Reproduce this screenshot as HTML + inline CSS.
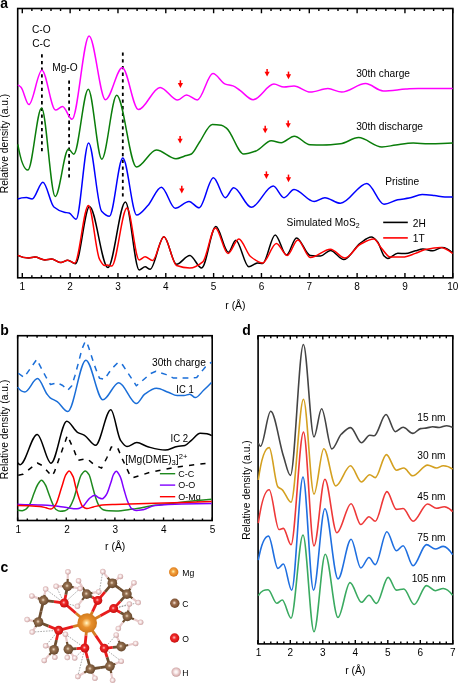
<!DOCTYPE html><html><head><meta charset="utf-8"><style>html,body{margin:0;padding:0;background:#fff;}svg{display:block;will-change:transform;}text{font-family:"Liberation Sans",sans-serif;}</style></head><body>
<svg width="458" height="685" viewBox="0 0 458 685">
<text x="0.2" y="7.9" font-size="14" text-anchor="start" font-weight="bold">a</text>
<text x="0.2" y="335" font-size="14" text-anchor="start" font-weight="bold">b</text>
<text x="0.6" y="571.9" font-size="14" text-anchor="start" font-weight="bold">c</text>
<text x="242.3" y="335.4" font-size="14" text-anchor="start" font-weight="bold">d</text>
<rect x="17.7" y="8.5" width="435.1" height="269.3" fill="none" stroke="#000" stroke-width="1.6"/>
<path d="M22.3 277.8v-4.8M22.3 8.5v4.8M31.87 277.8v-2.6M31.87 8.5v2.6M41.43 277.8v-2.6M41.43 8.5v2.6M51 277.8v-2.6M51 8.5v2.6M60.56 277.8v-2.6M60.56 8.5v2.6M70.13 277.8v-4.8M70.13 8.5v4.8M79.7 277.8v-2.6M79.7 8.5v2.6M89.26 277.8v-2.6M89.26 8.5v2.6M98.83 277.8v-2.6M98.83 8.5v2.6M108.39 277.8v-2.6M108.39 8.5v2.6M117.96 277.8v-4.8M117.96 8.5v4.8M127.53 277.8v-2.6M127.53 8.5v2.6M137.09 277.8v-2.6M137.09 8.5v2.6M146.66 277.8v-2.6M146.66 8.5v2.6M156.22 277.8v-2.6M156.22 8.5v2.6M165.79 277.8v-4.8M165.79 8.5v4.8M175.36 277.8v-2.6M175.36 8.5v2.6M184.92 277.8v-2.6M184.92 8.5v2.6M194.49 277.8v-2.6M194.49 8.5v2.6M204.05 277.8v-2.6M204.05 8.5v2.6M213.62 277.8v-4.8M213.62 8.5v4.8M223.19 277.8v-2.6M223.19 8.5v2.6M232.75 277.8v-2.6M232.75 8.5v2.6M242.32 277.8v-2.6M242.32 8.5v2.6M251.88 277.8v-2.6M251.88 8.5v2.6M261.45 277.8v-4.8M261.45 8.5v4.8M271.02 277.8v-2.6M271.02 8.5v2.6M280.58 277.8v-2.6M280.58 8.5v2.6M290.15 277.8v-2.6M290.15 8.5v2.6M299.71 277.8v-2.6M299.71 8.5v2.6M309.28 277.8v-4.8M309.28 8.5v4.8M318.85 277.8v-2.6M318.85 8.5v2.6M328.41 277.8v-2.6M328.41 8.5v2.6M337.98 277.8v-2.6M337.98 8.5v2.6M347.54 277.8v-2.6M347.54 8.5v2.6M357.11 277.8v-4.8M357.11 8.5v4.8M366.68 277.8v-2.6M366.68 8.5v2.6M376.24 277.8v-2.6M376.24 8.5v2.6M385.81 277.8v-2.6M385.81 8.5v2.6M395.37 277.8v-2.6M395.37 8.5v2.6M404.94 277.8v-4.8M404.94 8.5v4.8M414.51 277.8v-2.6M414.51 8.5v2.6M424.07 277.8v-2.6M424.07 8.5v2.6M433.64 277.8v-2.6M433.64 8.5v2.6M443.2 277.8v-2.6M443.2 8.5v2.6M452.77 277.8v-4.8M452.77 8.5v4.8" stroke="#000" stroke-width="1.4" fill="none"/>
<text x="22.3" y="290.2" font-size="10" text-anchor="middle">1</text>
<text x="70.13" y="290.2" font-size="10" text-anchor="middle">2</text>
<text x="117.96" y="290.2" font-size="10" text-anchor="middle">3</text>
<text x="165.79" y="290.2" font-size="10" text-anchor="middle">4</text>
<text x="213.62" y="290.2" font-size="10" text-anchor="middle">5</text>
<text x="261.45" y="290.2" font-size="10" text-anchor="middle">6</text>
<text x="309.28" y="290.2" font-size="10" text-anchor="middle">7</text>
<text x="357.11" y="290.2" font-size="10" text-anchor="middle">8</text>
<text x="404.94" y="290.2" font-size="10" text-anchor="middle">9</text>
<text x="452.77" y="290.2" font-size="10" text-anchor="middle">10</text>
<text x="235.4" y="308.6" font-size="10.4" text-anchor="middle">r (&#197;)</text>
<text transform="translate(7.6,143.5) rotate(-90)" font-size="10.3" text-anchor="middle">Relative density (a.u.)</text>
<path d="M41.9 54.2V152.5" stroke="#000" stroke-width="1.8" stroke-dasharray="3.3 3.4"/>
<path d="M69.1 80.4V177.5" stroke="#000" stroke-width="1.8" stroke-dasharray="3.3 3.4"/>
<path d="M122.8 52.5V200" stroke="#000" stroke-width="1.8" stroke-dasharray="3.3 3.4"/>
<text x="32" y="32.6" font-size="10.2" text-anchor="start">C-O</text>
<text x="32.2" y="47.4" font-size="10.2" text-anchor="start">C-C</text>
<text x="52.2" y="71" font-size="10.2" text-anchor="start">Mg-O</text>
<text x="356.2" y="77" font-size="10.2" text-anchor="start">30th charge</text>
<text x="356.2" y="129.6" font-size="10.2" text-anchor="start">30th discharge</text>
<text x="385.2" y="184.6" font-size="10.2" text-anchor="start">Pristine</text>
<text x="286.6" y="225.6" font-size="10.2" text-anchor="start">Simulated MoS<tspan font-size="7" dy="2">2</tspan></text>
<path d="M383.2 222.4H407.8" stroke="#000" stroke-width="1.6"/>
<path d="M383.2 237.9H407.8" stroke="#f00" stroke-width="1.6"/>
<text x="412.8" y="226.5" font-size="10.2" text-anchor="start">2H</text>
<text x="412.8" y="241.7" font-size="10.2" text-anchor="start">1T</text>
<path d="M180.4 80.3V83.8" stroke="#f00" stroke-width="1.5"/><path d="M177.8 83L183 83L180.4 87.9Z" fill="#f00"/>
<path d="M267.1 69V72.5" stroke="#f00" stroke-width="1.5"/><path d="M264.5 71.7L269.7 71.7L267.1 76.6Z" fill="#f00"/>
<path d="M288.5 71.6V75.1" stroke="#f00" stroke-width="1.5"/><path d="M285.9 74.3L291.1 74.3L288.5 79.2Z" fill="#f00"/>
<path d="M180.1 136V139.5" stroke="#f00" stroke-width="1.5"/><path d="M177.5 138.7L182.7 138.7L180.1 143.6Z" fill="#f00"/>
<path d="M265.2 125.7V129.2" stroke="#f00" stroke-width="1.5"/><path d="M262.6 128.4L267.8 128.4L265.2 133.3Z" fill="#f00"/>
<path d="M288.2 120.5V124" stroke="#f00" stroke-width="1.5"/><path d="M285.6 123.2L290.8 123.2L288.2 128.1Z" fill="#f00"/>
<path d="M181.8 185.8V189.3" stroke="#f00" stroke-width="1.5"/><path d="M179.2 188.5L184.4 188.5L181.8 193.4Z" fill="#f00"/>
<path d="M266.4 171.4V174.9" stroke="#f00" stroke-width="1.5"/><path d="M263.8 174.1L269 174.1L266.4 179Z" fill="#f00"/>
<path d="M288.5 174.6V178.1" stroke="#f00" stroke-width="1.5"/><path d="M285.9 177.3L291.1 177.3L288.5 182.2Z" fill="#f00"/>
<rect x="17.7" y="335.7" width="194.5" height="184.8" fill="none" stroke="#000" stroke-width="1.6"/>
<path d="M17.6 520.5v-2.9M17.6 335.7v2.9M27.33 520.5v-2M27.33 335.7v2M37.06 520.5v-2M37.06 335.7v2M46.79 520.5v-2M46.79 335.7v2M56.52 520.5v-2M56.52 335.7v2M66.25 520.5v-2.9M66.25 335.7v2.9M75.98 520.5v-2M75.98 335.7v2M85.71 520.5v-2M85.71 335.7v2M95.44 520.5v-2M95.44 335.7v2M105.17 520.5v-2M105.17 335.7v2M114.9 520.5v-2.9M114.9 335.7v2.9M124.63 520.5v-2M124.63 335.7v2M134.36 520.5v-2M134.36 335.7v2M144.09 520.5v-2M144.09 335.7v2M153.82 520.5v-2M153.82 335.7v2M163.55 520.5v-2.9M163.55 335.7v2.9M173.28 520.5v-2M173.28 335.7v2M183.01 520.5v-2M183.01 335.7v2M192.74 520.5v-2M192.74 335.7v2M202.47 520.5v-2M202.47 335.7v2M212.2 520.5v-2.9M212.2 335.7v2.9" stroke="#000" stroke-width="1.4" fill="none"/>
<text x="18.4" y="532.8" font-size="10" text-anchor="middle">1</text>
<text x="67.05" y="532.8" font-size="10" text-anchor="middle">2</text>
<text x="115.2" y="532.8" font-size="10" text-anchor="middle">3</text>
<text x="163.85" y="532.8" font-size="10" text-anchor="middle">4</text>
<text x="212.5" y="532.8" font-size="10" text-anchor="middle">5</text>
<text x="115.2" y="550.3" font-size="10.4" text-anchor="middle">r (&#197;)</text>
<text transform="translate(7.5,429.4) rotate(-90)" font-size="10.3" text-anchor="middle">Relative density (a.u.)</text>
<text x="152" y="365.6" font-size="10.2" text-anchor="start">30th charge</text>
<text x="176.3" y="393" font-size="10" text-anchor="start" textLength="17.4" lengthAdjust="spacingAndGlyphs">IC 1</text>
<text x="170.5" y="442.4" font-size="10" text-anchor="start" textLength="17.6" lengthAdjust="spacingAndGlyphs">IC 2</text>
<text x="125.2" y="463" font-size="10.2" text-anchor="start">[Mg(DME)<tspan font-size="7.6" dy="2.2">3</tspan><tspan dy="-2.2">]</tspan><tspan font-size="7.6" dy="-4.3">2+</tspan></text>
<path d="M159.9 473.7H175.2" stroke="#1f8a1f" stroke-width="1.4"/>
<text x="178.3" y="476.9" font-size="9" text-anchor="start">C-C</text>
<path d="M159.9 485.1H175.2" stroke="#8000ff" stroke-width="1.4"/>
<text x="178.3" y="488.3" font-size="9" text-anchor="start">O-O</text>
<path d="M159.9 496.7H175.2" stroke="#ff0000" stroke-width="1.4"/>
<text x="178.3" y="499.9" font-size="9" text-anchor="start">O-Mg</text>
<rect x="258.1" y="335.8" width="194.7" height="308.1" fill="none" stroke="#000" stroke-width="1.6"/>
<path d="M257.8 643.9v-3.8M257.8 335.8v3.8M264.3 643.9v-2.4M264.3 335.8v2.4M270.8 643.9v-2.4M270.8 335.8v2.4M277.3 643.9v-2.4M277.3 335.8v2.4M283.8 643.9v-2.4M283.8 335.8v2.4M290.3 643.9v-3.8M290.3 335.8v3.8M296.8 643.9v-2.4M296.8 335.8v2.4M303.3 643.9v-2.4M303.3 335.8v2.4M309.8 643.9v-2.4M309.8 335.8v2.4M316.3 643.9v-2.4M316.3 335.8v2.4M322.8 643.9v-3.8M322.8 335.8v3.8M329.3 643.9v-2.4M329.3 335.8v2.4M335.8 643.9v-2.4M335.8 335.8v2.4M342.3 643.9v-2.4M342.3 335.8v2.4M348.8 643.9v-2.4M348.8 335.8v2.4M355.3 643.9v-3.8M355.3 335.8v3.8M361.8 643.9v-2.4M361.8 335.8v2.4M368.3 643.9v-2.4M368.3 335.8v2.4M374.8 643.9v-2.4M374.8 335.8v2.4M381.3 643.9v-2.4M381.3 335.8v2.4M387.8 643.9v-3.8M387.8 335.8v3.8M394.3 643.9v-2.4M394.3 335.8v2.4M400.8 643.9v-2.4M400.8 335.8v2.4M407.3 643.9v-2.4M407.3 335.8v2.4M413.8 643.9v-2.4M413.8 335.8v2.4M420.3 643.9v-3.8M420.3 335.8v3.8M426.8 643.9v-2.4M426.8 335.8v2.4M433.3 643.9v-2.4M433.3 335.8v2.4M439.8 643.9v-2.4M439.8 335.8v2.4M446.3 643.9v-2.4M446.3 335.8v2.4M452.8 643.9v-3.8M452.8 335.8v3.8" stroke="#000" stroke-width="1.4" fill="none"/>
<text x="258.6" y="655.9" font-size="10" text-anchor="middle">1</text>
<text x="290.4" y="655.9" font-size="10" text-anchor="middle">2</text>
<text x="322.9" y="655.9" font-size="10" text-anchor="middle">3</text>
<text x="355.4" y="655.9" font-size="10" text-anchor="middle">4</text>
<text x="387.9" y="655.9" font-size="10" text-anchor="middle">5</text>
<text x="420.4" y="655.9" font-size="10" text-anchor="middle">6</text>
<text x="452.9" y="655.9" font-size="10" text-anchor="middle">7</text>
<text x="355.3" y="673.7" font-size="10.4" text-anchor="middle">r (&#197;)</text>
<text transform="translate(250.1,490) rotate(-90)" font-size="10.3" text-anchor="middle">Relative density (a.u.)</text>
<text x="417.3" y="421.4" font-size="10.2" text-anchor="start">15 nm</text>
<text x="417.3" y="459.3" font-size="10.2" text-anchor="start">30 nm</text>
<text x="417.3" y="499.9" font-size="10.2" text-anchor="start">45 nm</text>
<text x="417.3" y="541.4" font-size="10.2" text-anchor="start">75 nm</text>
<text x="411.7" y="582.3" font-size="10.2" text-anchor="start">105 nm</text>
<path d="M17.8 255.3C21.47 257.13 25.13 258 28.8 258C30.83 258 32.87 257.1 34.9 257.1C38.2 257.1 41.5 259.9 44.8 259.9C47.1 259.9 49.4 259 51.7 259C54.77 259 57.83 262.6 60.9 262.6C63.17 262.6 65.43 260.2 67.7 260.2C70.27 260.2 72.83 263.7 75.4 263.7C80.1 263.7 84.8 206.5 89.5 206.5C95.63 206.5 101.77 267.6 107.9 267.6C113.73 267.6 119.57 201.9 125.4 201.9C130 201.9 134.6 269.9 139.2 269.9C141.17 269.9 143.13 266.8 145.1 266.8C146.77 266.8 148.43 269.3 150.1 269.3C154.7 269.3 159.3 236.7 163.9 236.7C168.1 236.7 172.3 264.3 176.5 264.3C180.93 264.3 185.37 255.5 189.8 255.5C193.73 255.5 197.67 268 201.6 268C206.37 268 211.13 226.6 215.9 226.6C220.07 226.6 224.23 252.2 228.4 252.2C230.87 252.2 233.33 240.2 235.8 240.2C240.13 240.2 244.47 266.8 248.8 266.8C251.73 266.8 254.67 263 257.6 263C259.27 263 260.93 263.5 262.6 263.5C266.8 263.5 271 234.9 275.2 234.9C278.97 234.9 282.73 255 286.5 255C289.83 255 293.17 237.9 296.5 237.9C301.1 237.9 305.7 255.08 310.3 255.5C313.67 255.81 317.03 256 320.4 256C323.73 256 327.07 250.5 330.4 250.5C334.87 250.5 339.33 259.6 343.8 259.6C349.23 259.6 354.67 247.12 360.1 243.3C363.87 240.65 367.63 237 371.4 237C373.5 237 375.6 239.55 377.7 242C379.8 244.45 381.9 253.82 384 255.9C385.23 257.12 386.47 258.4 387.7 258.4C391.07 258.4 394.43 253.2 397.8 253.2C400.3 253.2 402.8 253.6 405.3 253.6C408.67 253.6 412.03 251.64 415.4 250.8C417.9 250.18 420.4 249.1 422.9 249.1C426.27 249.1 429.63 250.8 433 250.8C435.93 250.8 438.87 247.6 441.8 247.6C445.43 247.6 449.07 249.57 452.7 253.2" fill="none" stroke="#000000" stroke-width="1.5" stroke-linejoin="round"/>
<path d="M17.8 255.3C21.47 257.13 25.13 258 28.8 258C30.83 258 32.87 257.1 34.9 257.1C38.2 257.1 41.5 259.9 44.8 259.9C47.1 259.9 49.4 259 51.7 259C54.77 259 57.83 262.6 60.9 262.6C63.17 262.6 65.43 260.2 67.7 260.2C70 260.2 72.3 263.2 74.6 263.2C79.2 263.2 83.8 205.4 88.4 205.4C92.1 205.4 95.8 252.52 99.5 259.2C101.27 262.39 103.03 265.6 104.8 265.6C105.57 265.6 106.33 265 107.1 265C108.63 265 110.17 266.1 111.7 266.1C116.8 266.1 121.9 208 127 208C131.07 208 135.13 260 139.2 260C141.17 260 143.13 256.7 145.1 256.7C147.6 256.7 150.1 260.5 152.6 260.5C156.37 260.5 160.13 236.7 163.9 236.7C168.1 236.7 172.3 264.03 176.5 265.5C180.93 267.05 185.37 268 189.8 268C194.13 268 198.47 265.32 202.8 261.8C207 258.38 211.2 227.9 215.4 227.9C219.6 227.9 223.8 253.5 228 253.5C231.6 253.5 235.2 239 238.8 239C242.7 239 246.6 253.41 250.5 256.5C254.53 259.7 258.57 263 262.6 263C267.2 263 271.8 243.4 276.4 243.4C280 243.4 283.6 255.5 287.2 255.5C290.73 255.5 294.27 240 297.8 240C301.97 240 306.13 257.5 310.3 257.5C317 257.5 323.7 249.2 330.4 249.2C335.27 249.2 340.13 258 345 258C350 258 355 247.23 360 244.5C364.63 241.97 369.27 239 373.9 239C376.43 239 378.97 245.5 381.5 248.3C384.43 251.54 387.37 257.1 390.3 257.1C394.47 257.1 398.63 257.1 402.8 257.1C407 257.1 411.2 254.8 415.4 253.4C418.73 252.29 422.07 250.28 425.4 249.6C430.43 248.58 435.47 247.6 440.5 247.6C444.57 247.6 448.63 250.41 452.7 253.5" fill="none" stroke="#ff0000" stroke-width="1.5" stroke-linejoin="round"/>
<path d="M17.8 199C20.67 197.75 23.53 197.5 26.4 197.5C28.3 197.5 30.2 199 32.1 199C35.7 199 39.3 182.3 42.9 182.3C46.57 182.3 50.23 203.97 53.9 207C57.37 209.86 60.83 211.56 64.3 212.3C65.9 212.64 67.5 212.62 69.1 213C71.43 213.56 73.77 219.3 76.1 219.3C80.27 219.3 84.43 143 88.6 143C92.93 143 97.27 206.55 101.6 211.2C104.2 213.99 106.8 216.2 109.4 216.2C113.87 216.2 118.33 158 122.8 158C127.43 158 132.07 215 136.7 215C140.33 215 143.97 209.54 147.6 205.8C152.2 201.07 156.8 187.2 161.4 187.2C166 187.2 170.6 208.3 175.2 208.3C179.8 208.3 184.4 201.5 189 201.5C192.37 201.5 195.73 207.8 199.1 207.8C203.87 207.8 208.63 177.7 213.4 177.7C217.4 177.7 221.4 197.7 225.4 197.7C228.17 197.7 230.93 187.7 233.7 187.7C239.57 187.7 245.43 207.3 251.3 207.3C258.6 207.3 265.9 186 273.2 186C276.8 186 280.4 197.7 284 197.7C287.33 197.7 290.67 189.5 294 189.5C300.7 189.5 307.4 201.5 314.1 201.5C317.7 201.5 321.3 197.7 324.9 197.7C330.07 197.7 335.23 203.3 340.4 203.3C349.23 203.3 358.07 183.4 366.9 183.4C372.6 183.4 378.3 204.2 384 204.2C388.57 204.2 393.13 200.72 397.7 199.8C401.5 199.03 405.3 198.82 409.1 198.1C413.47 197.27 417.83 194.6 422.2 194.6C426.27 194.6 430.33 195.11 434.4 195.5C437.9 195.83 441.4 196.9 444.9 196.9C447.5 196.9 450.1 196.9 452.7 196.9" fill="none" stroke="#0000ff" stroke-width="1.5" stroke-linejoin="round"/>
<path d="M17.8 144.3C21.17 162.98 24.53 170 27.9 170C32.47 170 37.03 107.9 41.6 107.9C46.13 107.9 50.67 196.5 55.2 196.5C59.63 196.5 64.07 149.1 68.5 149.1C70.27 149.1 72.03 154.2 73.8 154.2C78.63 154.2 83.47 89.2 88.3 89.2C92.8 89.2 97.3 159.2 101.8 159.2C106.77 159.2 111.73 95.3 116.7 95.3C123.3 95.3 129.9 167 136.5 167C143.13 167 149.77 150 156.4 150C162.93 150 169.47 158.7 176 158.7C178.73 158.7 181.47 157.03 184.2 156.2C186.6 155.47 189 155.2 191.4 154C194.13 152.64 196.87 145.9 199.6 142C203.83 135.96 208.07 124.4 212.3 124.4C215.33 124.4 218.37 124.7 221.4 125.2C223.17 125.49 224.93 126.92 226.7 128.3C232.37 132.74 238.03 154 243.7 154C248.07 154 252.43 152.23 256.8 150.6C261.6 148.8 266.4 140.7 271.2 140.7C274.53 140.7 277.87 142.7 281.2 142.7C285.57 142.7 289.93 136.2 294.3 136.2C299.53 136.2 304.77 144.65 310 144.8C314.3 144.93 318.6 145 322.9 145C328.73 145 334.57 144.46 340.4 143.8C346.47 143.11 352.53 137.6 358.6 137.6C366.37 137.6 374.13 147 381.9 147C386.5 147 391.1 145.59 395.7 145C401.57 144.25 407.43 143 413.3 143C418.33 143 423.37 143.8 428.4 143.8C436.5 143.8 444.6 143.7 452.7 143" fill="none" stroke="#0a7d0a" stroke-width="1.5" stroke-linejoin="round"/>
<path d="M17.8 84.9C18.87 85.26 19.93 86.19 21 87.3C23.63 90.05 26.27 104.6 28.9 104.6C33.23 104.6 37.57 70.3 41.9 70.3C46.43 70.3 50.97 110.1 55.5 110.1C57.83 110.1 60.17 106.5 62.5 106.5C65.67 106.5 68.83 119.3 72 119.3C77.7 119.3 83.4 35.9 89.1 35.9C94.57 35.9 100.03 99.8 105.5 99.8C111.1 99.8 116.7 67.8 122.3 67.8C127.67 67.8 133.03 109.6 138.4 109.6C145.63 109.6 152.87 87.4 160.1 87.4C165.97 87.4 171.83 100 177.7 100C180.63 100 183.57 94.9 186.5 94.9C190.1 94.9 193.7 100 197.3 100C202.5 100 207.7 73.6 212.9 73.6C217.07 73.6 221.23 82.63 225.4 84.1C227.93 85 230.47 85.02 233 85.9C235.33 86.71 237.67 88.83 240 90.4C244.37 93.33 248.73 99.7 253.1 99.7C260.03 99.7 266.97 84.1 273.9 84.1C277.27 84.1 280.63 87.1 284 87.1C287.33 87.1 290.67 86.1 294 86.1C299.43 86.1 304.87 92.1 310.3 92.1C316.17 92.1 322.03 88.6 327.9 88.6C332.5 88.6 337.1 92.1 341.7 92.1C349.67 92.1 357.63 83.6 365.6 83.6C371.47 83.6 377.33 90.9 383.2 90.9C390.73 90.9 398.27 89.59 405.8 89.1C409.97 88.83 414.13 88.4 418.3 88.4C429.77 88.4 441.23 88.4 452.7 88.6" fill="none" stroke="#ff00ff" stroke-width="1.5" stroke-linejoin="round"/>
<path d="M17.6 372.7 L24 377.5 L36.7 359.5 L46.5 378 L50.5 384.5 L57.6 382.8 L62.7 385.5 L67.8 390.3 L71.8 385.8 L75 375.5 L78.5 362.5 L82 349 L85.3 341.3 L88 345.5 L91 354.5 L94 364 L97.4 373.3 L99.5 378.3 L104.4 379.4 L108.5 373.3 L112.4 368.1 L118.3 362.2 L122.7 365 L136.4 385.8 L139.7 383 L150.5 373.6 L156 371.2 L166.3 374.6 L173.1 377.9 L190.8 377.9 L196.7 377.5 L205.6 366.7 L211.5 362.2" fill="none" stroke="#1a6ed8" stroke-width="1.5" stroke-dasharray="5.8 5.4" stroke-linejoin="round" stroke-dashoffset="10.3"/>
<path d="M17.6 387.1C20 390.24 22.4 392 24.8 392C29.03 392 33.27 378.6 37.5 378.6C40.7 378.6 43.9 390.15 47.1 394.3C48.13 395.64 49.17 397.01 50.2 397.8C52.53 399.59 54.87 400.02 57.2 401.6C60.73 403.99 64.27 411.6 67.8 411.6C73.83 411.6 79.87 360.2 85.9 360.2C91.57 360.2 97.23 399.8 102.9 399.8C108.2 399.8 113.5 382.7 118.8 382.7C124.67 382.7 130.53 403.5 136.4 403.5C139.17 403.5 141.93 396.17 144.7 394.2C148.6 391.43 152.5 388.3 156.4 388.3C160.33 388.3 164.27 390.8 168.2 392.2C171.17 393.25 174.13 395.6 177.1 395.6C179.4 395.6 181.7 395.6 184 395.6C185.93 395.6 187.87 394.2 189.8 394.2C191.63 394.2 193.47 397.6 195.3 397.6C198.07 397.6 200.83 392.89 203.6 390.3C206.23 387.83 208.87 385.19 211.5 382.4" fill="none" stroke="#1a6ed8" stroke-width="1.5" stroke-linejoin="round"/>
<path d="M17.6 462.7C18.43 463.64 19.27 464.7 20.1 464.7C25.8 464.7 31.5 434.4 37.2 434.4C41.8 434.4 46.4 463.2 51 463.2C56.27 463.2 61.53 421.3 66.8 421.3C70.37 421.3 73.93 430.15 77.5 432.3C79.83 433.71 82.17 434.05 84.5 435.4C88.2 437.54 91.9 445.3 95.6 445.3C100.67 445.3 105.73 409.8 110.8 409.8C114.07 409.8 117.33 435.9 120.6 440.5C122.73 443.51 124.87 446.6 127 446.6C130.27 446.6 133.53 442.5 136.8 442.5C140.47 442.5 144.13 445.84 147.8 446.8C153.6 448.32 159.4 450.1 165.2 450.1C169.2 450.1 173.2 447.06 177.2 446.4C179.77 445.98 182.33 446.03 184.9 445.5C187.07 445.05 189.23 442.03 191.4 440.3C194.33 437.96 197.27 433.3 200.2 433.3C204.03 433.3 207.87 433.3 211.7 435.6" fill="none" stroke="#000" stroke-width="1.5" stroke-linejoin="round"/>
<path d="M17.6 475.3 L22.9 474.3 L37.3 463 L42.5 465.6 L51.7 476.1 L54.3 472.2 L67.4 435.5 L73.9 449.9 L77.9 460.4 L87 458.5 L93.6 464.3 L101.5 468.2 L107 457.5 L111.4 446.9 L117.4 447.3 L122.4 459.1 L130.3 476.1 L132.6 477.8 L150.2 472.3 L175.3 467.2 L211.7 462.7" fill="none" stroke="#000" stroke-width="1.5" stroke-dasharray="5.2 6.2" stroke-linejoin="round" stroke-dashoffset="10.7"/>
<path d="M17.6 509.9C19.13 510.72 20.67 510.8 22.2 510.8C23.47 510.8 24.73 510.01 26 509.2C27.27 508.39 28.53 506.4 29.8 504.2C31.2 501.77 32.6 496.76 34 493.3C35.17 490.41 36.33 486.87 37.5 485C38.83 482.86 40.17 480.2 41.5 480.2C42.83 480.2 44.17 482.75 45.5 485C46.53 486.74 47.57 490.57 48.6 493.3C50 496.99 51.4 501.4 52.8 504.2C53.87 506.34 54.93 508.78 56 509.5C57.47 510.49 58.93 511.3 60.4 511.3C61.93 511.3 63.47 511.09 65 510.8C66.47 510.52 67.93 509.11 69.4 507.5C70.83 505.93 72.27 502.45 73.7 498.8C74.8 496 75.9 491.27 77 487.8C78.47 483.17 79.93 476.87 81.4 474.7C82.67 472.83 83.93 470.9 85.2 470.9C86.47 470.9 87.73 472.73 89 474.7C90.1 476.41 91.2 481.87 92.3 485.7C93.2 488.83 94.1 492.76 95 495.5C96.27 499.36 97.53 503.45 98.8 505.3C100.27 507.44 101.73 509.2 103.2 509.7C105.03 510.33 106.87 510.75 108.7 510.8C111.1 510.86 113.5 510.9 115.9 510.9C121.37 510.9 126.83 509.82 132.3 509.1C139.87 508.11 147.43 506.35 155 505.3C161.77 504.37 168.53 503.63 175.3 502.9C187.43 501.58 199.57 500.35 211.7 499.3" fill="none" stroke="#1f8a1f" stroke-width="1.5" stroke-linejoin="round"/>
<path d="M17.6 504.1C18.4 504.21 19.2 504.35 20 504.4C27.27 504.84 34.53 504.78 41.8 505.1C45.47 505.26 49.13 505.49 52.8 505.8C56.87 506.14 60.93 506.8 65 507.3C69 507.8 73 508.8 77 508.8C79 508.8 81 507.62 83 506.4C85 505.18 87 500.45 89 498.8C90.9 497.23 92.8 495.3 94.7 495.3C96.07 495.3 97.43 497.13 98.8 497.7C99.9 498.16 101 498.8 102.1 498.8C103.57 498.8 105.03 496.55 106.5 494.4C107.97 492.25 109.43 486.64 110.9 482.4C111.77 479.9 112.63 476.01 113.5 474.5C114.4 472.93 115.3 471.2 116.2 471.2C117.57 471.2 118.93 474.18 120.3 476.9C121.57 479.42 122.83 485.82 124.1 490C125.37 494.18 126.63 499.16 127.9 502C129.17 504.84 130.43 507.71 131.7 508.6C133.17 509.63 134.63 510.5 136.1 510.5C138.47 510.5 140.83 510.09 143.2 509.7C147.13 509.05 151.07 505.79 155 505.5C173.9 504.09 192.8 503.6 211.7 503.6" fill="none" stroke="#8000ff" stroke-width="1.5" stroke-linejoin="round"/>
<path d="M17.6 505.6C24.97 505.6 32.33 505.87 39.7 506.4C41.8 506.55 43.9 507.27 46 507.8C47.53 508.18 49.07 509.1 50.6 509.1C51.57 509.1 52.53 508.26 53.5 507.5C54.33 506.84 55.17 505.65 56 504.2C57.83 501 59.67 493.26 61.5 487.8C62.97 483.43 64.43 477.14 65.9 474.7C66.97 472.93 68.03 470.9 69.1 470.9C70.47 470.9 71.83 473.87 73.2 476.9C74.1 478.9 75 484.5 75.9 487.8C77 491.83 78.1 495.8 79.2 498.8C80.3 501.8 81.4 505.45 82.5 506.4C83.93 507.63 85.37 508.6 86.8 508.6C89 508.6 91.2 507.41 93.4 506.9C96.3 506.23 99.2 505.33 102.1 505.1C106.4 504.76 110.7 504.66 115 504.5C128.33 504 141.67 503.7 155 503.3C173.9 502.73 192.8 502.17 211.7 501.6" fill="none" stroke="#ff0000" stroke-width="1.5" stroke-linejoin="round"/>
<path d="M258.3 595.7C261.57 590.01 264.83 589.8 268.1 589.8C271 589.8 273.9 603.3 276.8 603.3C278.63 603.3 280.47 600 282.3 600C285.2 600 288.1 618.2 291 618.2C295 618.2 299 535 303 535C306.67 535 310.33 631.7 314 631.7C317.77 631.7 321.53 554.2 325.3 554.2C329.53 554.2 333.77 617.5 338 617.5C342 617.5 346 582.6 350 582.6C353.83 582.6 357.67 602.3 361.5 602.3C364 602.3 366.5 595.2 369 595.2C371.47 595.2 373.93 603.4 376.4 603.4C380.33 603.4 384.27 577.4 388.2 577.4C390.93 577.4 393.67 590.1 396.4 590.1C398.87 590.1 401.33 589 403.8 589C407.27 589 410.73 604.5 414.2 604.5C418.3 604.5 422.4 585.6 426.5 585.6C429.47 585.6 432.43 590.7 435.4 590.7C438 590.7 440.6 588.5 443.2 588.5C446.33 588.5 449.47 591.26 452.6 595.2" fill="none" stroke="#3aaa60" stroke-width="1.6" stroke-linejoin="round"/>
<path d="M258.3 560.1C261.7 541.86 265.1 536.1 268.5 536.1C271.63 536.1 274.77 568.4 277.9 568.4C279.73 568.4 281.57 564 283.4 564C286.17 564 288.93 590.2 291.7 590.2C295.47 590.2 299.23 477.1 303 477.1C306.5 477.1 310 590.2 313.5 590.2C317.3 590.2 321.1 508.8 324.9 508.8C329.27 508.8 333.63 578.9 338 578.9C342.37 578.9 346.73 539.3 351.1 539.3C354.33 539.3 357.57 568 360.8 568C363.53 568 366.27 557.5 369 557.5C371.1 557.5 373.2 564.6 375.3 564.6C379.17 564.6 383.03 531.7 386.9 531.7C390.07 531.7 393.23 550.8 396.4 550.8C398.63 550.8 400.87 545.7 403.1 545.7C406.43 545.7 409.77 565.7 413.1 565.7C417.57 565.7 422.03 544.6 426.5 544.6C429.47 544.6 432.43 549 435.4 549C438 549 440.6 546.4 443.2 546.4C446.33 546.4 449.47 549.8 452.6 554.6" fill="none" stroke="#1f6fe0" stroke-width="1.6" stroke-linejoin="round"/>
<path d="M258.3 523.2C261.93 498.45 265.57 489.8 269.2 489.8C272.47 489.8 275.73 529.5 279 529.5C280.47 529.5 281.93 528.4 283.4 528.4C285.93 528.4 288.47 544.8 291 544.8C295.17 544.8 299.33 432.1 303.5 432.1C307 432.1 310.5 545.9 314 545.9C317.63 545.9 321.27 479.3 324.9 479.3C328.9 479.3 332.9 532.8 336.9 532.8C341.63 532.8 346.37 503.8 351.1 503.8C354.33 503.8 357.57 524.5 360.8 524.5C363.53 524.5 366.27 516.7 369 516.7C371.1 516.7 373.2 521.2 375.3 521.2C379.17 521.2 383.03 491.6 386.9 491.6C390.07 491.6 393.23 509.4 396.4 509.4C398.63 509.4 400.87 508.5 403.1 508.5C406.43 508.5 409.77 521.2 413.1 521.2C417.93 521.2 422.77 504 427.6 504C430.57 504 433.53 508.3 436.5 508.3C439.1 508.3 441.7 506.7 444.3 506.7C447.07 506.7 449.83 508.83 452.6 511.6" fill="none" stroke="#ee3838" stroke-width="1.6" stroke-linejoin="round"/>
<path d="M258.3 480C261.93 454.07 265.57 447.6 269.2 447.6C272.1 447.6 275 483.82 277.9 486.9C279.37 488.46 280.83 488.53 282.3 489.8C285.2 492.31 288.1 502.2 291 502.2C295.17 502.2 299.33 399.3 303.5 399.3C307 399.3 310.5 494.1 314 494.1C317.27 494.1 320.53 448.7 323.8 448.7C327.8 448.7 331.8 485.9 335.8 485.9C340.7 485.9 345.6 465.8 350.5 465.8C354.17 465.8 357.83 482 361.5 482C364.23 482 366.97 474.7 369.7 474.7C371.57 474.7 373.43 477.6 375.3 477.6C379 477.6 382.7 454.6 386.4 454.6C389.73 454.6 393.07 470.2 396.4 470.2C398.87 470.2 401.33 468 403.8 468C406.77 468 409.73 475.8 412.7 475.8C417.67 475.8 422.63 465.1 427.6 465.1C430.57 465.1 433.53 468 436.5 468C438.73 468 440.97 465.7 443.2 465.7C446.33 465.7 449.47 466.68 452.6 469.1" fill="none" stroke="#d4a020" stroke-width="1.6" stroke-linejoin="round"/>
<path d="M258.3 443C259.03 444.74 259.77 446.3 260.5 446.3C263.9 446.3 267.3 411.3 270.7 411.3C274.93 411.3 279.17 443.02 283.4 456C285.73 463.15 288.07 475.4 290.4 475.4C294.73 475.4 299.07 344.5 303.4 344.5C306.93 344.5 310.47 436.9 314 436.9C316.53 436.9 319.07 408.7 321.6 408.7C325.03 408.7 328.47 448.9 331.9 448.9C335 448.9 338.1 437.34 341.2 434.3C344.33 431.23 347.47 427.6 350.6 427.6C354.23 427.6 357.87 442.8 361.5 442.8C364.23 442.8 366.97 435.2 369.7 435.2C371.2 435.2 372.7 435.7 374.2 435.7C378.13 435.7 382.07 414.5 386 414.5C389.1 414.5 392.2 431.7 395.3 431.7C397.9 431.7 400.5 427.2 403.1 427.2C406.37 427.2 409.63 433.4 412.9 433.4C415.43 433.4 417.97 429.06 420.5 428.6C422.67 428.21 424.83 428.21 427 427.9C428.83 427.64 430.67 426.8 432.5 426.8C434.7 426.8 436.9 427.5 439.1 427.5C441.63 427.5 444.17 425.7 446.7 425.7C448.67 425.7 450.63 426.38 452.6 427.4" fill="none" stroke="#444444" stroke-width="1.6" stroke-linejoin="round"/>
<defs><radialGradient id="gMg" cx="0.47" cy="0.5" r="0.6"><stop offset="0" stop-color="#fffbd0"/><stop offset="0.12" stop-color="#ffd890"/><stop offset="0.4" stop-color="#e8902c"/><stop offset="0.85" stop-color="#d07a1c"/><stop offset="1" stop-color="#a05810"/></radialGradient><radialGradient id="gC" cx="0.45" cy="0.45" r="0.62"><stop offset="0" stop-color="#f0dcc4"/><stop offset="0.3" stop-color="#957050"/><stop offset="0.85" stop-color="#6a4a2e"/><stop offset="1" stop-color="#46301a"/></radialGradient><radialGradient id="gO" cx="0.45" cy="0.45" r="0.62"><stop offset="0" stop-color="#ffc8c8"/><stop offset="0.3" stop-color="#f02828"/><stop offset="0.85" stop-color="#c80e0e"/><stop offset="1" stop-color="#8e0606"/></radialGradient><radialGradient id="gH" cx="0.45" cy="0.45" r="0.62"><stop offset="0" stop-color="#ffffff"/><stop offset="0.35" stop-color="#f4e2e2"/><stop offset="0.8" stop-color="#d4acac"/><stop offset="1" stop-color="#a88080"/></radialGradient><radialGradient id="gMgL" cx="0.45" cy="0.45" r="0.6"><stop offset="0" stop-color="#fff6b0"/><stop offset="0.35" stop-color="#f2a040"/><stop offset="0.85" stop-color="#dc7a18"/><stop offset="1" stop-color="#b05a10"/></radialGradient><radialGradient id="gCL" cx="0.45" cy="0.45" r="0.6"><stop offset="0" stop-color="#fbe8dc"/><stop offset="0.35" stop-color="#a07050"/><stop offset="0.85" stop-color="#744a2c"/><stop offset="1" stop-color="#4e3018"/></radialGradient><radialGradient id="gOL" cx="0.45" cy="0.45" r="0.6"><stop offset="0" stop-color="#ffc0c0"/><stop offset="0.35" stop-color="#f02a2a"/><stop offset="0.85" stop-color="#d01010"/><stop offset="1" stop-color="#980808"/></radialGradient><radialGradient id="gHL" cx="0.48" cy="0.48" r="0.58"><stop offset="0" stop-color="#ffffff"/><stop offset="0.3" stop-color="#f8eaea"/><stop offset="0.75" stop-color="#d8b0b0"/><stop offset="1" stop-color="#a87c7c"/></radialGradient></defs>
<path d="M64.2 603L56.1 586.3M64.2 603L45.6 589.1M64.2 603L80.1 588.5M64.2 603L77.4 606.3M58.7 630.3L45.6 645.8M58.7 630.3L65.4 634.2M58.7 630.3L32.1 632.1M84.8 648L74.7 658M84.8 648L65.4 634.2M84.8 648L77.8 676.5M104.3 648.3L116.2 634.9M104.3 648.3L121.2 661.2M113.6 608.6L129.4 604M113.6 608.6L138.2 602.6M97.8 600.4L102.8 571.6M97.8 600.4L98.7 591.7" stroke="#8c8c8c" stroke-width="0.75" stroke-dasharray="1.6 1.2"/>
<path d="M67.5 586.3L67.7 579.05" stroke="#6e4e30" stroke-width="2.2"/><path d="M67.7 579.05L67.9 571.8" stroke="#e8caca" stroke-width="2.2"/>
<path d="M67.5 586.3L61.8 586.3" stroke="#6e4e30" stroke-width="2.2"/><path d="M61.8 586.3L56.1 586.3" stroke="#e8caca" stroke-width="2.2"/>
<path d="M67.5 586.3L73.8 587.4" stroke="#6e4e30" stroke-width="2.2"/><path d="M73.8 587.4L80.1 588.5" stroke="#e8caca" stroke-width="2.2"/>
<path d="M86.7 594.1L82.6 587.45" stroke="#6e4e30" stroke-width="2.2"/><path d="M82.6 587.45L78.5 580.8" stroke="#e8caca" stroke-width="2.2"/>
<path d="M86.7 594.1L82.05 600.2" stroke="#6e4e30" stroke-width="2.2"/><path d="M82.05 600.2L77.4 606.3" stroke="#e8caca" stroke-width="2.2"/>
<path d="M86.7 594.1L92.7 592.9" stroke="#6e4e30" stroke-width="2.2"/><path d="M92.7 592.9L98.7 591.7" stroke="#e8caca" stroke-width="2.2"/>
<path d="M112.3 583.3L107.55 577.45" stroke="#6e4e30" stroke-width="2.2"/><path d="M107.55 577.45L102.8 571.6" stroke="#e8caca" stroke-width="2.2"/>
<path d="M112.3 583.3L116.35 579.85" stroke="#6e4e30" stroke-width="2.2"/><path d="M116.35 579.85L120.4 576.4" stroke="#e8caca" stroke-width="2.2"/>
<path d="M126.9 594.1L130.4 588.4" stroke="#6e4e30" stroke-width="2.2"/><path d="M130.4 588.4L133.9 582.7" stroke="#e8caca" stroke-width="2.2"/>
<path d="M126.9 594.1L132.55 598.35" stroke="#6e4e30" stroke-width="2.2"/><path d="M132.55 598.35L138.2 602.6" stroke="#e8caca" stroke-width="2.2"/>
<path d="M127.4 616.4L128.4 610.2" stroke="#6e4e30" stroke-width="2.2"/><path d="M128.4 610.2L129.4 604" stroke="#e8caca" stroke-width="2.2"/>
<path d="M127.4 616.4L134 619.35" stroke="#6e4e30" stroke-width="2.2"/><path d="M134 619.35L140.6 622.3" stroke="#e8caca" stroke-width="2.2"/>
<path d="M127.4 616.4L122.85 622.45" stroke="#6e4e30" stroke-width="2.2"/><path d="M122.85 622.45L118.3 628.5" stroke="#e8caca" stroke-width="2.2"/>
<path d="M43.6 600.4L44.6 594.75" stroke="#6e4e30" stroke-width="2.2"/><path d="M44.6 594.75L45.6 589.1" stroke="#e8caca" stroke-width="2.2"/>
<path d="M43.6 600.4L37.7 598.15" stroke="#6e4e30" stroke-width="2.2"/><path d="M37.7 598.15L31.8 595.9" stroke="#e8caca" stroke-width="2.2"/>
<path d="M38.5 622L32.8 620.8" stroke="#6e4e30" stroke-width="2.2"/><path d="M32.8 620.8L27.1 619.6" stroke="#e8caca" stroke-width="2.2"/>
<path d="M38.5 622L35.3 627.05" stroke="#6e4e30" stroke-width="2.2"/><path d="M35.3 627.05L32.1 632.1" stroke="#e8caca" stroke-width="2.2"/>
<path d="M54.1 649.8L49.85 647.8" stroke="#6e4e30" stroke-width="2.2"/><path d="M49.85 647.8L45.6 645.8" stroke="#e8caca" stroke-width="2.2"/>
<path d="M54.1 649.8L49.15 655.1" stroke="#6e4e30" stroke-width="2.2"/><path d="M49.15 655.1L44.2 660.4" stroke="#e8caca" stroke-width="2.2"/>
<path d="M54.1 649.8L54.45 653.5" stroke="#6e4e30" stroke-width="2.2"/><path d="M54.45 653.5L54.8 657.2" stroke="#e8caca" stroke-width="2.2"/>
<path d="M68.4 649.2L66.9 641.7" stroke="#6e4e30" stroke-width="2.2"/><path d="M66.9 641.7L65.4 634.2" stroke="#e8caca" stroke-width="2.2"/>
<path d="M68.4 649.2L67.85 653.4" stroke="#6e4e30" stroke-width="2.2"/><path d="M67.85 653.4L67.3 657.6" stroke="#e8caca" stroke-width="2.2"/>
<path d="M68.4 649.2L71.55 653.6" stroke="#6e4e30" stroke-width="2.2"/><path d="M71.55 653.6L74.7 658" stroke="#e8caca" stroke-width="2.2"/>
<path d="M90.4 669L84.1 672.75" stroke="#6e4e30" stroke-width="2.2"/><path d="M84.1 672.75L77.8 676.5" stroke="#e8caca" stroke-width="2.2"/>
<path d="M90.4 669L92.65 673.6" stroke="#6e4e30" stroke-width="2.2"/><path d="M92.65 673.6L94.9 678.2" stroke="#e8caca" stroke-width="2.2"/>
<path d="M109.9 666.2L111.25 673.25" stroke="#6e4e30" stroke-width="2.2"/><path d="M111.25 673.25L112.6 680.3" stroke="#e8caca" stroke-width="2.2"/>
<path d="M109.9 666.2L115.55 663.7" stroke="#6e4e30" stroke-width="2.2"/><path d="M115.55 663.7L121.2 661.2" stroke="#e8caca" stroke-width="2.2"/>
<path d="M121.3 646.6L118.75 640.75" stroke="#6e4e30" stroke-width="2.2"/><path d="M118.75 640.75L116.2 634.9" stroke="#e8caca" stroke-width="2.2"/>
<path d="M121.3 646.6L128.45 645" stroke="#6e4e30" stroke-width="2.2"/><path d="M128.45 645L135.6 643.4" stroke="#e8caca" stroke-width="2.2"/>
<path d="M87.2 623L75.7 613" stroke="#d47c22" stroke-width="2.8"/><path d="M75.7 613L64.2 603" stroke="#e81c1c" stroke-width="2.8"/>
<path d="M87.2 623L92.5 611.7" stroke="#d47c22" stroke-width="2.8"/><path d="M92.5 611.7L97.8 600.4" stroke="#e81c1c" stroke-width="2.8"/>
<path d="M87.2 623L100.4 615.8" stroke="#d47c22" stroke-width="2.8"/><path d="M100.4 615.8L113.6 608.6" stroke="#e81c1c" stroke-width="2.8"/>
<path d="M87.2 623L72.95 626.65" stroke="#d47c22" stroke-width="2.8"/><path d="M72.95 626.65L58.7 630.3" stroke="#e81c1c" stroke-width="2.8"/>
<path d="M87.2 623L86 635.5" stroke="#d47c22" stroke-width="2.8"/><path d="M86 635.5L84.8 648" stroke="#e81c1c" stroke-width="2.8"/>
<path d="M87.2 623L95.75 635.65" stroke="#d47c22" stroke-width="2.8"/><path d="M95.75 635.65L104.3 648.3" stroke="#e81c1c" stroke-width="2.8"/>
<path d="M67.5 586.3L65.85 594.65" stroke="#6e4e30" stroke-width="2.8"/><path d="M65.85 594.65L64.2 603" stroke="#e81c1c" stroke-width="2.8"/>
<path d="M64.2 603L53.9 601.7" stroke="#e81c1c" stroke-width="2.8"/><path d="M53.9 601.7L43.6 600.4" stroke="#6e4e30" stroke-width="2.8"/>
<path d="M43.6 600.4L41.05 611.2" stroke="#6e4e30" stroke-width="2.8"/><path d="M41.05 611.2L38.5 622" stroke="#6e4e30" stroke-width="2.8"/>
<path d="M38.5 622L48.6 626.15" stroke="#6e4e30" stroke-width="2.8"/><path d="M48.6 626.15L58.7 630.3" stroke="#e81c1c" stroke-width="2.8"/>
<path d="M58.7 630.3L56.4 640.05" stroke="#e81c1c" stroke-width="2.8"/><path d="M56.4 640.05L54.1 649.8" stroke="#6e4e30" stroke-width="2.8"/>
<path d="M86.7 594.1L92.25 597.25" stroke="#6e4e30" stroke-width="2.8"/><path d="M92.25 597.25L97.8 600.4" stroke="#e81c1c" stroke-width="2.8"/>
<path d="M97.8 600.4L105.05 591.85" stroke="#e81c1c" stroke-width="2.8"/><path d="M105.05 591.85L112.3 583.3" stroke="#6e4e30" stroke-width="2.8"/>
<path d="M112.3 583.3L119.6 588.7" stroke="#6e4e30" stroke-width="2.8"/><path d="M119.6 588.7L126.9 594.1" stroke="#6e4e30" stroke-width="2.8"/>
<path d="M126.9 594.1L120.25 601.35" stroke="#6e4e30" stroke-width="2.8"/><path d="M120.25 601.35L113.6 608.6" stroke="#e81c1c" stroke-width="2.8"/>
<path d="M113.6 608.6L120.5 612.5" stroke="#e81c1c" stroke-width="2.8"/><path d="M120.5 612.5L127.4 616.4" stroke="#6e4e30" stroke-width="2.8"/>
<path d="M68.4 649.2L76.6 648.6" stroke="#6e4e30" stroke-width="2.8"/><path d="M76.6 648.6L84.8 648" stroke="#e81c1c" stroke-width="2.8"/>
<path d="M84.8 648L87.6 658.5" stroke="#e81c1c" stroke-width="2.8"/><path d="M87.6 658.5L90.4 669" stroke="#6e4e30" stroke-width="2.8"/>
<path d="M90.4 669L100.15 667.6" stroke="#6e4e30" stroke-width="2.8"/><path d="M100.15 667.6L109.9 666.2" stroke="#6e4e30" stroke-width="2.8"/>
<path d="M109.9 666.2L107.1 657.25" stroke="#6e4e30" stroke-width="2.8"/><path d="M107.1 657.25L104.3 648.3" stroke="#e81c1c" stroke-width="2.8"/>
<path d="M104.3 648.3L112.8 647.45" stroke="#e81c1c" stroke-width="2.8"/><path d="M112.8 647.45L121.3 646.6" stroke="#6e4e30" stroke-width="2.8"/>
<circle cx="67.9" cy="571.8" r="2.75" fill="url(#gH)"/>
<circle cx="56.1" cy="586.3" r="2.75" fill="url(#gH)"/>
<circle cx="80.1" cy="588.5" r="2.75" fill="url(#gH)"/>
<circle cx="78.5" cy="580.8" r="2.75" fill="url(#gH)"/>
<circle cx="77.4" cy="606.3" r="2.75" fill="url(#gH)"/>
<circle cx="98.7" cy="591.7" r="2.75" fill="url(#gH)"/>
<circle cx="102.8" cy="571.6" r="2.75" fill="url(#gH)"/>
<circle cx="120.4" cy="576.4" r="2.75" fill="url(#gH)"/>
<circle cx="133.9" cy="582.7" r="2.75" fill="url(#gH)"/>
<circle cx="138.2" cy="602.6" r="2.75" fill="url(#gH)"/>
<circle cx="129.4" cy="604" r="2.75" fill="url(#gH)"/>
<circle cx="140.6" cy="622.3" r="2.75" fill="url(#gH)"/>
<circle cx="118.3" cy="628.5" r="2.75" fill="url(#gH)"/>
<circle cx="45.6" cy="589.1" r="2.75" fill="url(#gH)"/>
<circle cx="31.8" cy="595.9" r="2.75" fill="url(#gH)"/>
<circle cx="27.1" cy="619.6" r="2.75" fill="url(#gH)"/>
<circle cx="32.1" cy="632.1" r="2.75" fill="url(#gH)"/>
<circle cx="45.6" cy="645.8" r="2.75" fill="url(#gH)"/>
<circle cx="44.2" cy="660.4" r="2.75" fill="url(#gH)"/>
<circle cx="54.8" cy="657.2" r="2.75" fill="url(#gH)"/>
<circle cx="65.4" cy="634.2" r="2.75" fill="url(#gH)"/>
<circle cx="67.3" cy="657.6" r="2.75" fill="url(#gH)"/>
<circle cx="74.7" cy="658" r="2.75" fill="url(#gH)"/>
<circle cx="77.8" cy="676.5" r="2.75" fill="url(#gH)"/>
<circle cx="94.9" cy="678.2" r="2.75" fill="url(#gH)"/>
<circle cx="112.6" cy="680.3" r="2.75" fill="url(#gH)"/>
<circle cx="121.2" cy="661.2" r="2.75" fill="url(#gH)"/>
<circle cx="116.2" cy="634.9" r="2.75" fill="url(#gH)"/>
<circle cx="135.6" cy="643.4" r="2.75" fill="url(#gH)"/>
<circle cx="87.2" cy="623" r="9.8" fill="url(#gMg)"/>
<circle cx="64.2" cy="603" r="4.5" fill="url(#gO)"/>
<circle cx="97.8" cy="600.4" r="4.5" fill="url(#gO)"/>
<circle cx="113.6" cy="608.6" r="4.5" fill="url(#gO)"/>
<circle cx="58.7" cy="630.3" r="4.5" fill="url(#gO)"/>
<circle cx="84.8" cy="648" r="4.5" fill="url(#gO)"/>
<circle cx="104.3" cy="648.3" r="4.5" fill="url(#gO)"/>
<circle cx="67.5" cy="586.3" r="4.85" fill="url(#gC)"/>
<circle cx="86.7" cy="594.1" r="4.85" fill="url(#gC)"/>
<circle cx="112.3" cy="583.3" r="4.85" fill="url(#gC)"/>
<circle cx="126.9" cy="594.1" r="4.85" fill="url(#gC)"/>
<circle cx="127.4" cy="616.4" r="4.85" fill="url(#gC)"/>
<circle cx="43.6" cy="600.4" r="4.85" fill="url(#gC)"/>
<circle cx="38.5" cy="622" r="4.85" fill="url(#gC)"/>
<circle cx="54.1" cy="649.8" r="4.85" fill="url(#gC)"/>
<circle cx="68.4" cy="649.2" r="4.85" fill="url(#gC)"/>
<circle cx="90.4" cy="669" r="4.85" fill="url(#gC)"/>
<circle cx="109.9" cy="666.2" r="4.85" fill="url(#gC)"/>
<circle cx="121.3" cy="646.6" r="4.85" fill="url(#gC)"/>
<circle cx="173.7" cy="572" r="4.7" fill="url(#gMgL)"/>
<text x="182.3" y="575.7" font-size="8.6" text-anchor="start">Mg</text>
<circle cx="174.8" cy="603.3" r="4.7" fill="url(#gCL)"/>
<text x="182.3" y="607" font-size="8.6" text-anchor="start">C</text>
<circle cx="174.6" cy="638" r="4.7" fill="url(#gOL)"/>
<text x="182.3" y="641.7" font-size="8.6" text-anchor="start">O</text>
<circle cx="176.2" cy="672.1" r="4.7" fill="url(#gHL)"/>
<text x="182.3" y="675.8" font-size="8.6" text-anchor="start">H</text>
</svg></body></html>
